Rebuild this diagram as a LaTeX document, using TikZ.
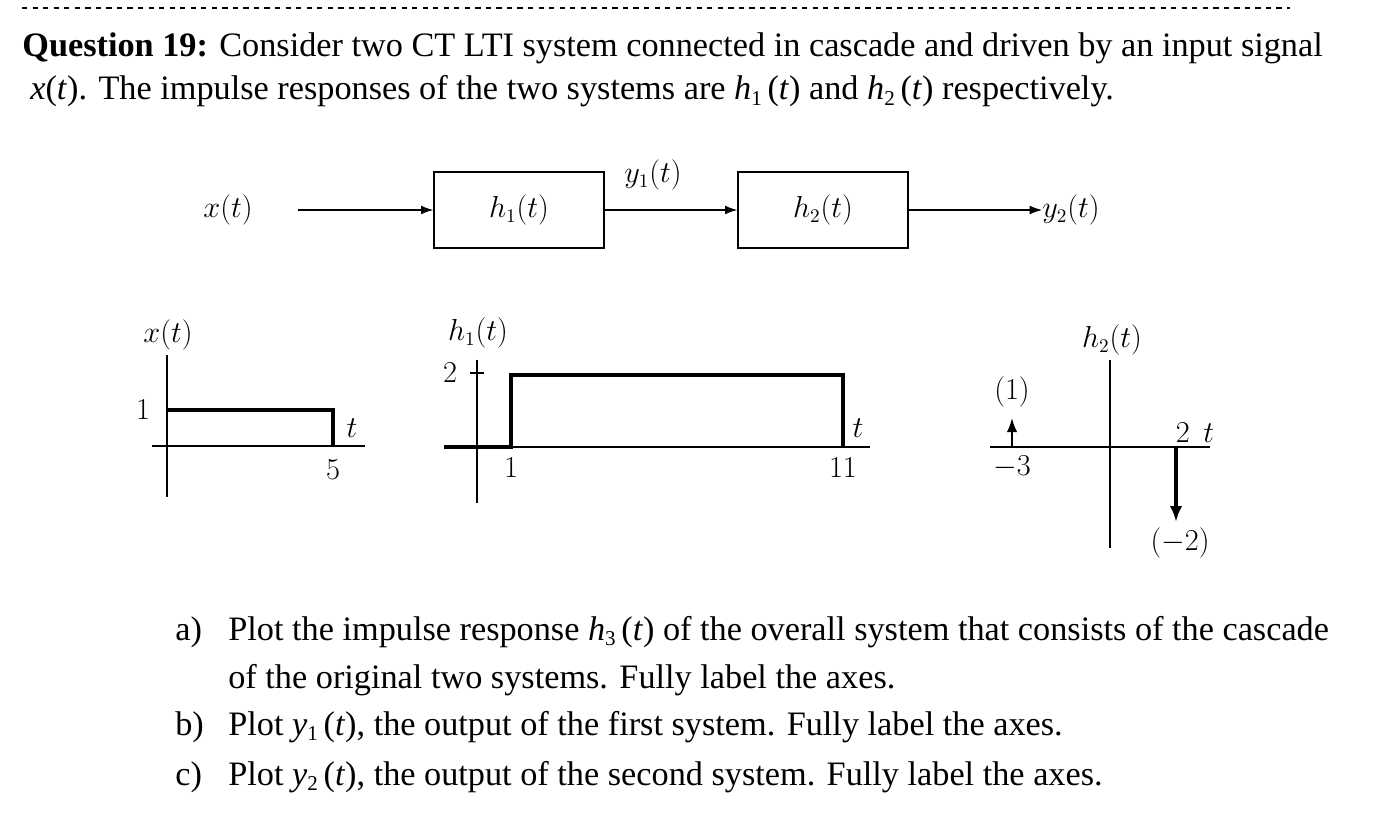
\documentclass[tikz,border=0pt]{standalone}
\usepackage{fontspec}
\setmainfont{Liberation Serif}
\usetikzlibrary{arrows.meta}
\newcommand{\sv}[2]{\textit{#1}\raisebox{-0.35ex}{\fontsize{12}{12}\selectfont #2}\,(\textit{t})}
\begin{document}
\begin{tikzpicture}[x=0.02cm,y=-0.02cm,
  txt/.style={anchor=base west,inner sep=0,font=\fontsize{19.5}{22}\selectfont},
  ml/.style={inner sep=0,font=\fontsize{16}{18}\selectfont},
  blk/.style={draw,line width=0.8pt,minimum width=3.4cm,minimum height=1.52cm,font=\fontsize{16}{18}\selectfont},
  sig/.style={-{Latex[length=7pt,width=5pt]},line width=0.6pt},
  ax/.style={line width=0.7pt},
  th/.style={line width=2pt}]
\useasboundingbox (0,0) rectangle (1388,820);
\draw[dashed,line width=0.6pt] (22,8) -- (1290,8);
\node[txt] (q1) at (22,57) {\textbf{Question 19:} Consider two CT LTI system connected in cascade and driven by an input signal};
\node[txt] (q2) at (30,100) {\textit{x}(\textit{t}). The impulse responses of the two systems are \sv{h}{1} and \sv{h}{2} respectively.};
% block diagram
\node[ml] (xin) at (228,210) {$x(t)$};
\coordinate (s0) at (298,210);
\node[blk] (b1) at (519,210) {$h_1(t)$};
\node[blk] (b2) at (823,210) {$h_2(t)$};
\node[ml,anchor=west] (yout) at (1042,210) {$y_2(t)$};
\node[ml] (y1) at (653,175) {$y_1(t)$};
\draw[sig] (s0) -- (b1.west);
\draw[sig] (b1.east) -- (b2.west);
\draw[sig] (b2.east) -- (yout.west);
% x(t) plot
\draw[ax] (167,355) -- (167,497);
\draw[ax] (152,446) -- (365,446);
\draw[th] (167,410) -- (333,410) -- (333,446);
\node[ml] (xl) at (168,335) {$x(t)$};
\node[ml] (x1) at (143,410) {$1$};
\node[ml] (xt) at (352,428) {$t$};
\node[ml] (x5) at (333,470) {$5$};
% h1 plot
\draw[ax] (477,360) -- (477,503);
\draw[ax] (470,373) -- (484,373);
\draw[ax] (445,447) -- (870,447);
\draw[th] (444,447) -- (511,447) -- (511,375) -- (843,375) -- (843,447);
\node[ml] (hl) at (478,333) {$h_1(t)$};
\node[ml] (h2v) at (450,373) {$2$};
\node[ml] (h1v) at (511,468) {$1$};
\node[ml] (h11) at (843,468) {$11$};
\node[ml] (ht) at (858,428) {$t$};
% h2 plot
\draw[ax] (1110,360) -- (1110,548);
\draw[ax] (990,447) -- (1210,447);
\draw[-{Latex[length=8pt,width=6pt]},line width=1.2pt] (1012,447) -- (1012,418);
\draw[-{Latex[length=9pt,width=7pt]},line width=2pt] (1176,447) -- (1176,522);
\node[ml] (gl) at (1112,340) {$h_2(t)$};
\node[ml] (g1) at (1012,392) {$(1)$};
\node[ml] (g3) at (1012,467) {$-3$};
\node[ml] (g2) at (1195,433) {$2\;\, t$};
\node[ml] (gm2) at (1180,543) {$(-2)$};
% questions
\node[txt] (a) at (175,640) {a)};
\node[txt] (a1) at (228,640) {Plot the impulse response \sv{h}{3} of the overall system that consists of the cascade};
\node[txt] (a2) at (228,688) {of the original two systems. Fully label the axes.};
\node[txt] (b) at (175,735) {b)};
\node[txt] (b1t) at (228,735) {Plot \sv{y}{1}, the output of the first system. Fully label the axes.};
\node[txt] (c) at (175,785) {c)};
\node[txt] (c1t) at (228,785) {Plot \sv{y}{2}, the output of the second system. Fully label the axes.};
\end{tikzpicture}
\end{document}
